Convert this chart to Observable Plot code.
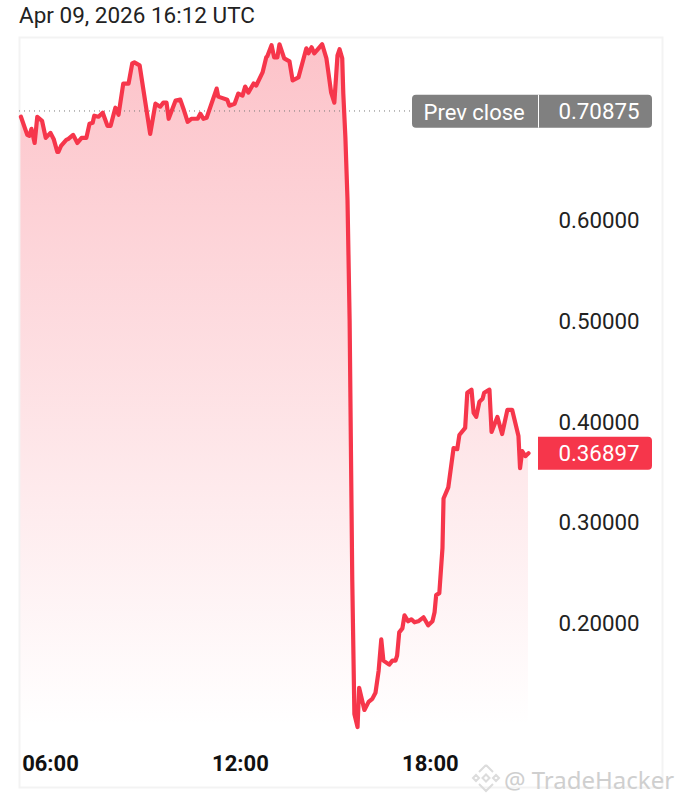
<!DOCTYPE html>
<html>
<head>
<meta charset="utf-8">
<script src="https://cdn.jsdelivr.net/npm/d3@7"></script>
<script src="https://cdn.jsdelivr.net/npm/@observablehq/plot@0.6"></script>
<style>
html,body{margin:0;padding:0;background:#fff;font-family:Roboto,sans-serif}
#title{height:37px;line-height:31px;padding-left:19px;font-size:22.5px;color:#222;white-space:nowrap}
svg{display:block}
</style>
</head>
<body>
<div id="title">Apr 09, 2026 16:12 UTC</div>
<div id="chart"></div>
<script>
const minutes = [304,316,320,324,330,335,344,351,360,366,373,375,380,390,394,403,411,419,428,434,440,443,451,459,468,474,483,489,498,508,515,519,529,549,559,568,574,580,584,597,606,612,620,627,639,644,650,656,675,678,695,699,709,716,724,729,735,745,750,762,769,771,779,784,790,794,803,813,819,830,845,849,855,860,875,883,887,892,898,904,908,913,915,919,923,927,932,936,942,945,955,963,970,976,982,987,991,1002,1008,1014,1017,1021,1027,1031,1038,1044,1050,1057,1067,1076,1084,1088,1091,1097,1103,1105,1114,1124,1131,1135,1146,1150,1158,1162,1167,1173,1179,1182,1192,1196,1207,1216,1226,1235,1247,1250,1254,1260,1266];
const prices = [.703,.685,.684,.691,.677,.703,.699,.682,.687,.681,.668,.668,.674,.680,.681,.685,.677,.682,.682,.696,.697,.704,.703,.707,.694,.694,.712,.705,.736,.736,.756,.757,.754,.686,.716,.713,.717,.717,.701,.719,.720,.711,.698,.701,.701,.706,.701,.702,.731,.723,.720,.714,.716,.726,.724,.733,.727,.736,.734,.747,.762,.763,.774,.762,.762,.775,.761,.758,.739,.742,.771,.766,.772,.766,.775,.761,.746,.727,.717,.764,.770,.761,.726,.682,.620,.501,.243,.110,.097,.136,.114,.122,.125,.131,.153,.184,.163,.159,.163,.163,.168,.191,.195,.208,.202,.204,.201,.202,.206,.198,.202,.211,.228,.230,.275,.324,.335,.374,.373,.387,.394,.429,.432,.409,.405,.420,.423,.429,.432,.390,.405,.388,.412,.412,.386,.354,.371,.366,.36897];
const series = minutes.map((m, i) => ({m, p: prices[i]}));
const prevClose = 0.70875;
const lastPrice = 0.36897;
const xTicks = [360, 720, 1080];
const yTicks = [0.2, 0.3, 0.4, 0.5, 0.6];
const xTickLabels = ["06:00", "12:00", "18:00"];
const RED = "#f6364b";
const GREY = "#808080";
const floor = d3.min(prices);

const gradient = () => {
  const g = d3.create("svg:defs");
  const lg = g.append("linearGradient").attr("id", "fade").attr("x1", 0).attr("x2", 0).attr("y1", 0).attr("y2", 1);
  lg.append("stop").attr("offset", "0%").attr("stop-color", RED).attr("stop-opacity", 0.3);
  lg.append("stop").attr("offset", "100%").attr("stop-color", RED).attr("stop-opacity", 0);
  return g.node();
};

const badge = (value, left, right, color, roundLeft, sep) => (index, {y}) => {
  const g = d3.create("svg:g");
  const c = y(value) + 0.7, h = 33, r = 4, t = c - h / 2, b = c + h / 2;
  const rl = roundLeft ? r : 0;
  g.append("path").attr("fill", color).attr("d",
    `M${left + rl},${t}H${right - r}Q${right},${t} ${right},${t + r}V${b - r}Q${right},${b} ${right - r},${b}H${left + rl}` +
    (rl ? `Q${left},${b} ${left},${b - r}V${t + r}Q${left},${t} ${left + r},${t}Z` : "Z"));
  if (sep) g.append("rect").attr("x", sep).attr("y", t).attr("width", 1).attr("height", h).attr("fill", "#fff");
  return g.node();
};

const logo = (index, s, v, dim) => {
  const g = d3.create("svg:g").attr("transform", `translate(486,741)`).attr("fill", "none").attr("stroke", "#dcdcdc").attr("stroke-width", 2);
  g.append("path").attr("d", "M0,-13L7,-6M0,-13L-7,-6M-3.5,0L0,-3.5L3.5,0L0,3.5ZM-7,6L0,13L7,6M-13,0L-10,-3L-7,0L-10,3ZM13,0L10,-3L7,0L10,3Z");
  return g.node();
};

const chart = Plot.plot({
  width: 682,
  height: 768,
  marginLeft: 19,
  marginRight: 20,
  marginTop: 0,
  marginBottom: 18,
  style: {fontFamily: "Roboto, sans-serif", background: "#fff", overflow: "visible"},
  x: {domain: [301.3, 1520], label: null},
  y: {domain: [0.0370, 0.7817], label: null},
  marks: [
    gradient,
    Plot.frame({stroke: "#f3f3f3", strokeWidth: 2}),
    Plot.areaY(series, {x: "m", y1: floor, y2: "p", fill: "url(#fade)"}),
    Plot.ruleY([prevClose], {stroke: "#777", strokeWidth: 1, strokeDasharray: "1,4", x1: 301.3, x2: 1046}),
    Plot.lineY(series, {x: "m", y: "p", stroke: RED, strokeWidth: 4.2, strokeLinejoin: "round"}),
    Plot.axisX({ticks: xTicks, tickFormat: (d, i) => xTickLabels[i], tickSize: 0, tickPadding: -32, fontSize: 22, fontWeight: 700, fill: "#111", label: null}),
    Plot.axisY({anchor: "right", ticks: yTicks, tickFormat: d3.format(".5f"), tickSize: 0, tickPadding: -104, textAnchor: "start", fontSize: 22.3, dy: 0.7, fill: "#222", label: null}),
    badge(prevClose, 412, 652, GREY, true, 538),
    badge(lastPrice, 538, 652, RED, false, null),
    Plot.text(["Prev close"], {text: d => d, y: [prevClose], frameAnchor: "right", dx: -239, dy: 1.5, textAnchor: "start", fill: "#fff", fontSize: 22}),
    Plot.text([prevClose], {text: d => d.toFixed(5), y: d => d, frameAnchor: "right", dx: -23, dy: 1, textAnchor: "end", fill: "#fff", fontSize: 22.3}),
    Plot.text([lastPrice], {text: d => d.toFixed(5), y: d => d, frameAnchor: "right", dx: -23, dy: 1, textAnchor: "end", fill: "#fff", fontSize: 22.3}),
    logo,
    Plot.text(["@ TradeHacker"], {text: d => d, frameAnchor: "bottom", dx: 248, dy: 1, lineAnchor: "bottom", textAnchor: "middle", fill: "#cfcfcf", fontSize: 24, fontFamily: "Noto Sans"})
  ]
});
document.getElementById("chart").appendChild(chart);
</script>
</body>
</html>
